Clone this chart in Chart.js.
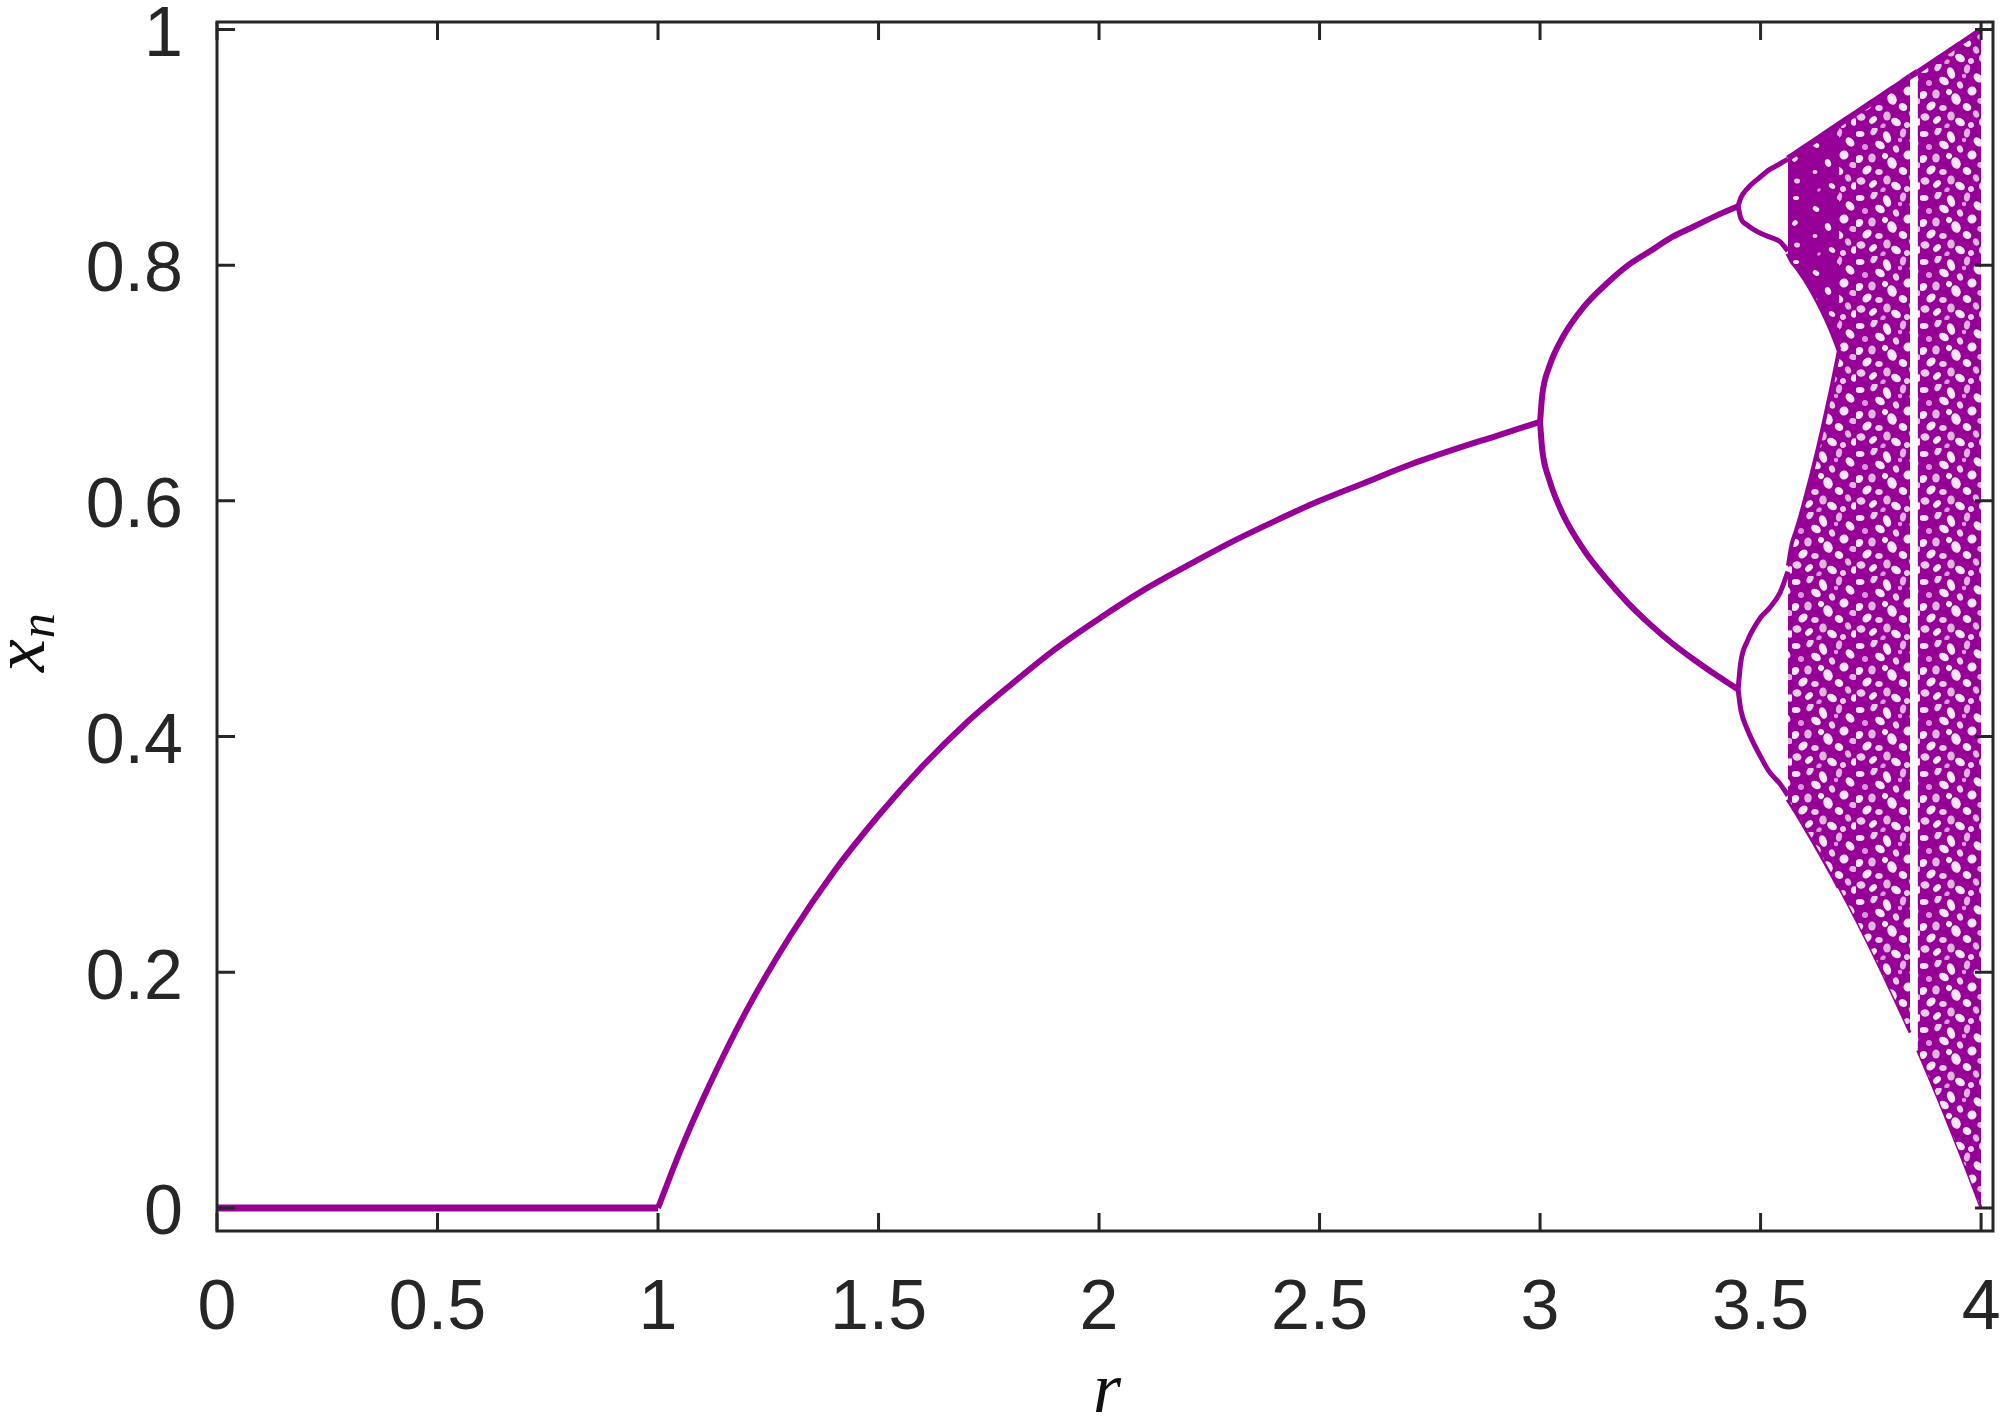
<!DOCTYPE html>
<html>
<head>
<meta charset="utf-8">
<script src="https://cdn.jsdelivr.net/npm/chart.js@4.4.1/dist/chart.umd.min.js"></script>
<style>
  html, body { margin: 0; padding: 0; background: #fff; }
  #wrap { width: 2008px; height: 1428px; position: relative; }
</style>
</head>
<body>
<div id="wrap"><canvas id="bif"></canvas></div>
<script>
// values (r on x, x_n on y)
const rZero = [0, 0.25, 0.5, 0.75, 1.0];
const xZero = [0, 0, 0, 0, 0];

const rFixed = [1.0, 1.05, 1.1, 1.2, 1.3, 1.4, 1.5, 1.6, 1.7, 1.8, 1.9, 2.0, 2.1, 2.2, 2.3, 2.4, 2.5, 2.6, 2.7, 2.8, 2.9, 3.0];
const xFixed = [0, 0.048, 0.091, 0.167, 0.231, 0.286, 0.333, 0.375, 0.412, 0.444, 0.474, 0.500, 0.524, 0.545, 0.565, 0.583, 0.600, 0.615, 0.630, 0.643, 0.655, 0.667];

const rP2 = [3.0, 3.005, 3.02, 3.05, 3.1, 3.15, 3.2, 3.25, 3.3, 3.35, 3.4, 3.449];
const xP2Up = [0.667, 0.690, 0.713, 0.738, 0.765, 0.784, 0.800, 0.812, 0.824, 0.833, 0.842, 0.850];
const xP2Lo = [0.667, 0.643, 0.619, 0.590, 0.558, 0.534, 0.513, 0.495, 0.479, 0.465, 0.452, 0.440];

const rP4 = [3.449, 3.455, 3.47, 3.5, 3.52, 3.544, 3.562];
const xP4a = [0.850, 0.857, 0.865, 0.875, 0.881, 0.886, 0.890];
const xP4b = [0.850, 0.840, 0.834, 0.827, 0.824, 0.820, 0.812];
const xP4c = [0.440, 0.463, 0.481, 0.501, 0.509, 0.522, 0.540];
const xP4d = [0.440, 0.423, 0.406, 0.383, 0.370, 0.360, 0.350];

// two chaotic bands before they merge
const rBands = [3.562, 3.57, 3.58, 3.59, 3.6, 3.62, 3.64, 3.66, 3.678];
const xBandTop = [0.8905, 0.8925, 0.895, 0.8975, 0.900, 0.905, 0.910, 0.915, 0.9195];
const xBandUpLo = [0.810, 0.804, 0.799, 0.794, 0.7885, 0.776, 0.7616, 0.7452, 0.728];
const xBandLoUp = [0.545, 0.5626, 0.5745, 0.587, 0.6004, 0.6293, 0.6609, 0.695, 0.728];
const xBandBot = [0.347, 0.3425, 0.3364, 0.3303, 0.324, 0.3112, 0.2981, 0.2846, 0.2722];

// merged band up to the period-3 window
const rMerged = [3.676, 3.7, 3.72, 3.74, 3.76, 3.78, 3.8, 3.82, 3.839];
const xMergedTop = [0.919, 0.925, 0.930, 0.935, 0.940, 0.945, 0.950, 0.955, 0.960];
const xMergedBot = [0.2735, 0.2567, 0.2422, 0.2273, 0.2121, 0.1965, 0.1805, 0.1642, 0.1488];

// after the period-3 window
const rRight = [3.856, 3.88, 3.9, 3.92, 3.94, 3.96, 3.98, 4.0];
const xRightTop = [0.964, 0.970, 0.975, 0.980, 0.985, 0.990, 0.995, 1.0];
const xRightBot = [0.1338, 0.1129, 0.0951, 0.0768, 0.0582, 0.0392, 0.0198, 0.0];

const rLink = [3.839, 3.856];
const xLink = [0.960, 0.964];

const PURPLE = '#960096';
const INK = '#262626';
const TICK_FONT = { family: '"Liberation Sans", Arial, sans-serif', size: 70 };

// white speckles for the chaotic fill (tile style only): x, y, rx, ry, alpha
const HOLES = [
  [4, 6, 3, 2, 0.9], [18, 3, 2, 3, 0.8], [31, 9, 4, 2.5, 0.9], [47, 5, 3, 2, 0.7], [58, 14, 2.5, 3.5, 0.9],
  [9, 19, 2, 2, 0.6], [24, 17, 3.5, 2.5, 0.9], [40, 21, 2.5, 2, 0.8], [52, 27, 3, 3, 0.9],
  [3, 31, 3, 2.5, 0.9], [16, 30, 2.5, 3, 0.7], [29, 28, 2, 2, 0.9], [36, 35, 4, 3, 0.9], [61, 37, 2, 2.5, 0.7],
  [11, 42, 3.5, 2.5, 0.9], [23, 44, 2.5, 2, 0.8], [47, 43, 3, 2.5, 0.9], [56, 50, 2.5, 2, 0.7],
  [5, 53, 2.5, 3, 0.8], [17, 56, 3, 2, 0.9], [31, 52, 2.5, 3, 0.7], [40, 58, 3.5, 2.5, 0.9],
  [51, 61, 2, 2, 0.8], [62, 58, 2.5, 2, 0.9], [27, 62, 2, 1.5, 0.6], [44, 12, 1.5, 1.5, 0.6]
];

function speckle(scale, keep) {
  const c = document.createElement('canvas');
  c.width = 64; c.height = 64;
  const g = c.getContext('2d');
  g.fillStyle = PURPLE;
  g.fillRect(0, 0, 64, 64);
  HOLES.forEach(([x, y, rx, ry, al], i) => {
    if (i % keep !== 0) return;
    g.fillStyle = 'rgba(255,255,255,' + al + ')';
    g.beginPath();
    g.ellipse(x, y, rx * scale, ry * scale, (i % 5) * 0.6, 0, Math.PI * 2);
    g.fill();
  });
  return g.createPattern(c, 'repeat');
}

function pts(xs, ys) {
  return xs.map((x, i) => ({ x: x, y: ys[i] }));
}

function branch(xs, ys, width, fill, bg) {
  return {
    data: pts(xs, ys),
    borderColor: PURPLE,
    borderWidth: width,
    pointRadius: 0,
    cubicInterpolationMode: 'monotone',
    fill: fill || false,
    backgroundColor: bg || PURPLE
  };
}

const framePlugin = {
  id: 'frame',
  afterDatasetsDraw(chart) {
    const { ctx, chartArea: a, scales } = chart;
    ctx.save();
    ctx.strokeStyle = INK;
    ctx.lineWidth = 3;
    ctx.strokeRect(a.left, a.top, a.right - a.left, a.bottom - a.top);
    const L = 18;
    ctx.beginPath();
    scales.x.ticks.forEach(t => {
      const px = scales.x.getPixelForValue(t.value);
      ctx.moveTo(px, a.bottom); ctx.lineTo(px, a.bottom - L);
      ctx.moveTo(px, a.top); ctx.lineTo(px, a.top + L);
    });
    scales.y.ticks.forEach(t => {
      const py = scales.y.getPixelForValue(t.value);
      ctx.moveTo(a.left, py); ctx.lineTo(a.left + L, py);
      ctx.moveTo(a.right, py); ctx.lineTo(a.right - L, py);
    });
    ctx.stroke();

    // axis titles
    ctx.fillStyle = '#111';
    ctx.font = 'italic 72px "Liberation Serif", serif';
    ctx.textAlign = 'center';
    ctx.textBaseline = 'alphabetic';
    ctx.fillText('r', (a.left + a.right) / 2 + 2, 1412);

    ctx.translate(44, 672);
    ctx.rotate(-Math.PI / 2);
    ctx.textAlign = 'left';
    ctx.font = 'italic 74px "Liberation Serif", serif';
    ctx.fillText('x', 0, 0);
    const w = ctx.measureText('x').width;
    ctx.font = 'italic 50px "Liberation Serif", serif';
    ctx.fillText('n', w + 1, 10);
    ctx.restore();
  }
};

const loose = speckle(1.5, 1);
const dense = speckle(1.0, 3);

const datasets = [
  branch(rZero, xZero, 7),
  branch(rFixed, xFixed, 6),
  branch(rP2, xP2Up, 6),
  branch(rP2, xP2Lo, 6),
  branch(rP4, xP4a, 5),
  branch(rP4, xP4b, 5),
  branch(rP4, xP4c, 5),
  branch(rP4, xP4d, 5),
  branch(rBands, xBandTop, 6, '+1', dense),
  branch(rBands, xBandUpLo, 5),
  branch(rBands, xBandLoUp, 4, '+1', loose),
  branch(rBands, xBandBot, 5),
  branch(rMerged, xMergedTop, 6, '+1', loose),
  branch(rMerged, xMergedBot, 3),
  branch(rRight, xRightTop, 5, '+1', loose),
  branch(rRight, xRightBot, 3),
  branch(rLink, xLink, 6)
];

const fmt = v => String(Number(v.toFixed(2)));

new Chart(document.getElementById('bif'), {
  type: 'line',
  data: { datasets: datasets },
  plugins: [framePlugin],
  options: {
    responsive: true,
    maintainAspectRatio: false,
    animation: false,
    devicePixelRatio: 1,
    layout: { padding: { top: 22, right: 15, left: 0, bottom: 0 } },
    plugins: { legend: { display: false }, tooltip: { enabled: false } },
    scales: {
      x: {
        type: 'linear',
        min: 0,
        max: 4.027,
        grid: { display: false, drawTicks: false },
        border: { display: false },
        ticks: { stepSize: 0.5, includeBounds: false, font: TICK_FONT, color: INK, padding: 37, maxRotation: 0, autoSkip: false, callback: fmt },
        afterFit(s) { s.height = 197; s.paddingLeft = 0; s.paddingRight = 0; }
      },
      y: {
        type: 'linear',
        min: -0.0195,
        max: 1.0063,
        grid: { display: false, drawTicks: false },
        border: { display: false },
        ticks: { stepSize: 0.2, includeBounds: false, font: TICK_FONT, color: INK, padding: 34, labelOffset: 7, callback: fmt },
        afterFit(s) { s.width = 217; s.paddingTop = 0; s.paddingBottom = 0; }
      }
    }
  }
});
</script>
</body>
</html>
